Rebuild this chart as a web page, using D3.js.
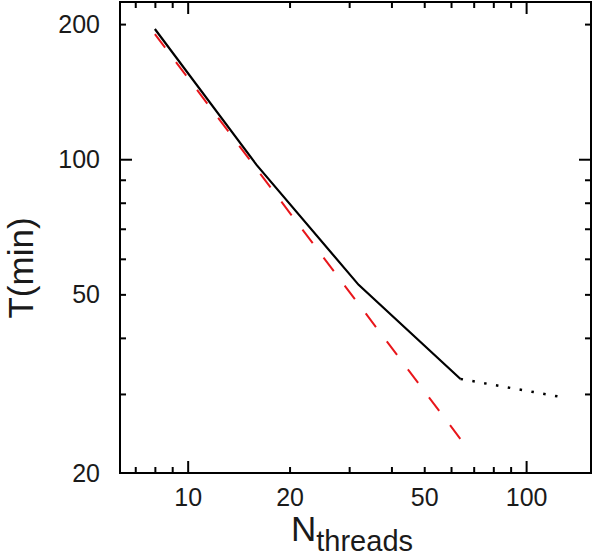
<!DOCTYPE html>
<html>
<head>
<meta charset="utf-8">
<script src="https://cdn.jsdelivr.net/npm/d3@7"></script>
<style>
  body { margin: 0; background: #fff; }
  svg { display: block; font-family: "Liberation Sans", Arial, sans-serif; }
</style>
</head>
<body>
<svg class="chart" width="595" height="558"></svg>
<script>
// measured run times (minutes) against number of threads
const threads = [8, 16, 32, 64]
const timeMin = [195, 97, 52.5, 32.4]
// extra run past the physical cores, drawn dotted
const threadsHT = [64, 128]
const timeHT = [32.4, 29.5]
// ideal scaling line
const idealThreads = [8, 64]
const idealTime = [190, 23.8]

// ticks and labels
const xMajor = [10, 100]
const xMinor = [7, 8, 9, 20, 30, 40, 50, 60, 70, 80, 90]
const xLabels = [10, 20, 50, 100]
const yMajor = [100]
const yMinor = [30, 40, 50, 60, 70, 80, 90, 200]
const yLabels = [20, 50, 100, 200]

const svg = d3.select("svg.chart")
const plotL = 120, plotR = 591, plotT = 2, plotB = 473

//log scales both ways
const x = d3.scaleLog()
  .domain([6.31, 155.5])
  .range([plotL, plotR])
const y = d3.scaleLog()
  .domain([20, 224])
  .range([plotB, plotT])

const line = d3.line()
  .x(d => x(d[0]))
  .y(d => y(d[1]))

// ticks on all four sides, pointing in
function ticks(axisFn, scale, vals, len, pos) {
  const g = svg.append("g")
    .attr("transform", pos)
    .call(axisFn(scale).tickValues(vals).tickSize(-len).tickFormat(""))
  g.select(".domain").remove()
  g.selectAll("line").attr("stroke", "#000").attr("stroke-width", 2)
}
ticks(d3.axisBottom, x, xMajor, 12, `translate(0,${plotB})`)
ticks(d3.axisBottom, x, xMinor, 6, `translate(0,${plotB})`)
ticks(d3.axisTop, x, xMajor, 12, `translate(0,${plotT})`)
ticks(d3.axisTop, x, xMinor, 6, `translate(0,${plotT})`)
ticks(d3.axisLeft, y, yMajor, 12, `translate(${plotL},0)`)
ticks(d3.axisLeft, y, yMinor, 6, `translate(${plotL},0)`)
ticks(d3.axisRight, y, yMajor, 12, `translate(${plotR},0)`)
ticks(d3.axisRight, y, yMinor, 6, `translate(${plotR},0)`)

// tick labels
const xl = svg.append("g")
  .attr("transform", `translate(0,${plotB})`)
  .call(d3.axisBottom(x).tickValues(xLabels).tickSize(0).tickPadding(15).tickFormat(d3.format("d")))
xl.select(".domain").remove()
xl.selectAll("text").attr("font-size", 25).attr("font-family", null).attr("fill", "#1a1a1a")

const yl = svg.append("g")
  .attr("transform", `translate(${plotL},0)`)
  .call(d3.axisLeft(y).tickValues(yLabels).tickSize(0).tickPadding(20).tickFormat(d3.format("d")))
yl.select(".domain").remove()
yl.selectAll("text").attr("font-size", 25).attr("font-family", null).attr("fill", "#1a1a1a")

// lines
svg.append("path")
  .datum(d3.zip(idealThreads, idealTime))
  .attr("d", line)
  .attr("fill", "none")
  .attr("stroke", "#e8161b")
  .attr("stroke-width", 2)
  .attr("stroke-dasharray", "17,18")

svg.append("path")
  .datum(d3.zip(threads, timeMin))
  .attr("d", line)
  .attr("fill", "none")
  .attr("stroke", "#000")
  .attr("stroke-width", 2.2)

svg.append("path")
  .datum(d3.zip(threadsHT, timeHT))
  .attr("d", line)
  .attr("fill", "none")
  .attr("stroke", "#000")
  .attr("stroke-width", 2.5)
  .attr("stroke-dasharray", "2.5,9.5")

// frame
svg.append("rect")
  .attr("x", plotL).attr("y", plotT)
  .attr("width", plotR - plotL).attr("height", plotB - plotT)
  .attr("fill", "none")
  .attr("stroke", "#000")
  .attr("stroke-width", 2)

// axis titles
const xt = svg.append("text")
  .attr("x", 291).attr("y", 541)
  .attr("font-size", 35).attr("fill", "#1a1a1a")
xt.append("tspan").text("N")
xt.append("tspan").text("threads").attr("font-size", 29).attr("dy", 10)

svg.append("text")
  .attr("transform", "translate(33,268) rotate(-90)")
  .attr("text-anchor", "middle")
  .attr("font-size", 35).attr("fill", "#1a1a1a")
  .text("T(min)")
</script>
</body>
</html>
